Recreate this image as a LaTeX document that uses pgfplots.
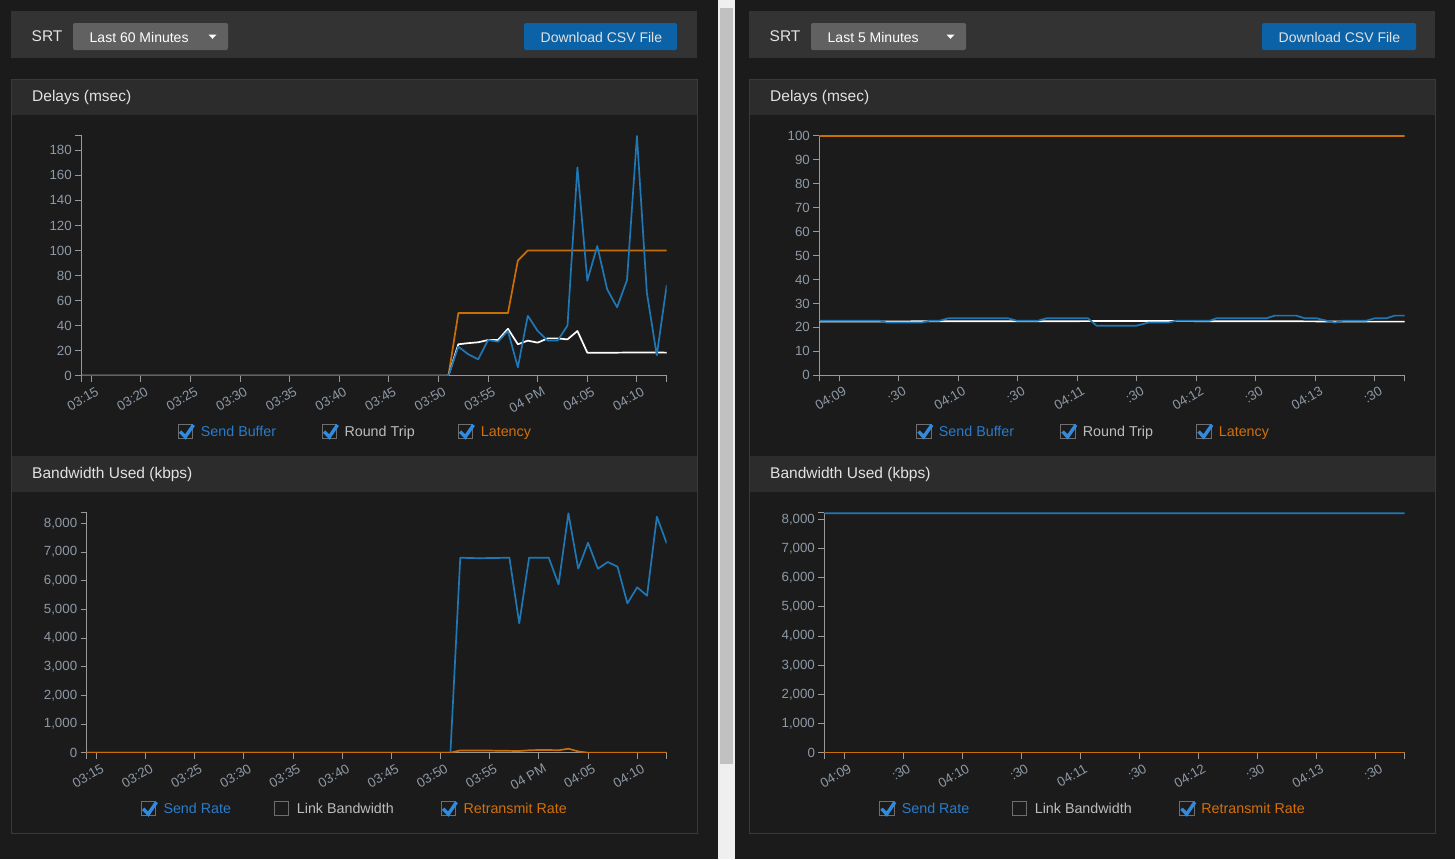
\documentclass[border=0pt]{standalone}
\usepackage{pgfplots}
\pgfplotsset{compat=1.18}
\usepackage{fontspec}
\setmainfont{Liberation Sans}
\definecolor{pagebg}{HTML}{1B1B1B}
\definecolor{barbg}{HTML}{333333}
\definecolor{hdrbg}{HTML}{2C2C2C}
\definecolor{panelborder}{HTML}{3A3A3A}
\definecolor{ddbtn}{HTML}{616161}
\definecolor{dlbtn}{HTML}{0B62A6}
\definecolor{axisgray}{HTML}{999999}
\definecolor{ticktxt}{HTML}{8E99A6}
\definecolor{sblue}{HTML}{1F77B4}
\definecolor{sorange}{HTML}{C96F06}
\definecolor{lgblue}{HTML}{2A7CCB}
\definecolor{lgorange}{HTML}{D2700C}
\definecolor{lggray}{HTML}{BDBDBD}
\definecolor{chkblue}{HTML}{2E8BE0}
\definecolor{boxgray}{HTML}{6E6E6E}
\definecolor{hdrtxt}{HTML}{E2E2E2}
\definecolor{scrollbg}{HTML}{EFEFEF}
\definecolor{scrollthumb}{HTML}{C1C1C1}

\pgfplotsset{
  srt/.style={
    scale only axis, anchor=south west,
    axis lines=left, axis line style={-, draw=axisgray, line width=1bp},
    tick align=outside, major tick length=6bp,
    tick style={draw=axisgray, line width=1bp},
    ticklabel style={font=\fontsize{13.3bp}{13.3bp}\selectfont, text=ticktxt},
    /pgf/number format/assume math mode=true,
    /pgf/number format/1000 sep={,},
    xticklabel style={xshift=9bp, yshift=-7bp, rotate=30, anchor=east},
    extra x tick labels={}, extra y tick labels={},
    ymin=0,
    every axis plot/.append style={line width=1.7bp, line join=round, mark=none},
  }
}
\newcommand{\cbox}[2]{\draw[boxgray, line width=1bp] (#1,#2) rectangle ++(14.4,14.4);}
\newcommand{\cmark}[2]{\draw[chkblue, line width=3.4bp, line join=miter] (#1+1.8,#2+7.2) -- (#1+7,#2+12.6) -- (#1+15.2,#2+0.6);}
\newcommand{\hdrfont}{\fontsize{15.5bp}{15.5bp}\selectfont}
\newcommand{\btnfont}{\fontsize{14bp}{14bp}\selectfont}
\newcommand{\lgfont}{\fontsize{14.3bp}{14.3bp}\selectfont}

\begin{document}
\begin{tikzpicture}
\begin{scope}[x=1bp, y=-1bp]
% page
\fill[pagebg] (0,0) rectangle (1455,859);
\useasboundingbox (0,0) rectangle (1455,859);
% scrollbar
\fill[scrollbg] (718,0) rectangle (735,859);
\fill[scrollthumb] (720,8) rectangle (733,764);

% ---------- LEFT COLUMN ----------
\fill[barbg] (11,11) rectangle (697,58);
\node[anchor=base west, inner sep=0, text=hdrtxt, font=\hdrfont] at (31.5,41) {SRT};
\fill[ddbtn, rounded corners=2bp] (73,23) rectangle (228,50);
\node[anchor=base west, inner sep=0, text=white, font=\btnfont] at (89.5,42.5) {Last 60 Minutes};
\fill[white] (208.5,34.5) -- (216.5,34.5) -- (212.5,38.8) -- cycle;
\fill[dlbtn, rounded corners=1.5bp] (524,23) rectangle (677,50);
\node[anchor=base west, inner sep=0, text=hdrtxt, font=\btnfont] at (540.5,42.5) {Download CSV File};

\fill[pagebg] (11,79) rectangle (697,833);
\fill[hdrbg] (11,79) rectangle (697,115);
\fill[hdrbg] (11,456) rectangle (697,492);
\draw[panelborder, line width=1bp] (11.5,79.5) rectangle (697.5,833.5);
\node[anchor=base west, inner sep=0, text=hdrtxt, font=\hdrfont] at (32,101.7) {Delays (msec)};
\node[anchor=base west, inner sep=0, text=hdrtxt, font=\hdrfont] at (32,478.7) {Bandwidth Used (kbps)};

% legends left
\cbox{178.3}{424.3}\cmark{178.3}{424.3}
\node[anchor=base west, inner sep=0, text=lgblue, font=\lgfont] at (200.7,436.6) {Send Buffer};
\cbox{322.3}{424.3}\cmark{322.3}{424.3}
\node[anchor=base west, inner sep=0, text=lggray, font=\lgfont] at (344.3,436.6) {Round Trip};
\cbox{458.3}{424.3}\cmark{458.3}{424.3}
\node[anchor=base west, inner sep=0, text=lgorange, font=\lgfont] at (480.7,436.6) {Latency};

\cbox{141.3}{801.5}\cmark{141.3}{801.5}
\node[anchor=base west, inner sep=0, text=lgblue, font=\lgfont] at (163.3,813.5) {Send Rate};
\cbox{274.3}{801.5}
\node[anchor=base west, inner sep=0, text=lggray, font=\lgfont] at (296.7,813.5) {Link Bandwidth};
\cbox{441.3}{801.5}\cmark{441.3}{801.5}
\node[anchor=base west, inner sep=0, text=lgorange, font=\lgfont] at (463.3,813.5) {Retransmit Rate};

% ---------- RIGHT COLUMN ----------
\fill[barbg] (749,11) rectangle (1435,58);
\node[anchor=base west, inner sep=0, text=hdrtxt, font=\hdrfont] at (769.5,41) {SRT};
\fill[ddbtn, rounded corners=2bp] (811,23) rectangle (966,50);
\node[anchor=base west, inner sep=0, text=white, font=\btnfont] at (827.5,42.5) {Last 5 Minutes};
\fill[white] (946.5,34.5) -- (954.5,34.5) -- (950.5,38.8) -- cycle;
\fill[dlbtn, rounded corners=1.5bp] (1262,23) rectangle (1416,50);
\node[anchor=base west, inner sep=0, text=hdrtxt, font=\btnfont] at (1278.5,42.5) {Download CSV File};

\fill[pagebg] (749,79) rectangle (1435,833);
\fill[hdrbg] (749,79) rectangle (1435,115);
\fill[hdrbg] (749,456) rectangle (1435,492);
\draw[panelborder, line width=1bp] (749.5,79.5) rectangle (1435.5,833.5);
\node[anchor=base west, inner sep=0, text=hdrtxt, font=\hdrfont] at (770,101.7) {Delays (msec)};
\node[anchor=base west, inner sep=0, text=hdrtxt, font=\hdrfont] at (770,478.7) {Bandwidth Used (kbps)};

\cbox{916.7}{424.3}\cmark{916.7}{424.3}
\node[anchor=base west, inner sep=0, text=lgblue, font=\lgfont] at (938.7,436.6) {Send Buffer};
\cbox{1060.7}{424.3}\cmark{1060.7}{424.3}
\node[anchor=base west, inner sep=0, text=lggray, font=\lgfont] at (1082.7,436.6) {Round Trip};
\cbox{1196.7}{424.3}\cmark{1196.7}{424.3}
\node[anchor=base west, inner sep=0, text=lgorange, font=\lgfont] at (1218.7,436.6) {Latency};

\cbox{879.7}{801.5}\cmark{879.7}{801.5}
\node[anchor=base west, inner sep=0, text=lgblue, font=\lgfont] at (901.6,813.5) {Send Rate};
\cbox{1012.3}{801.5}
\node[anchor=base west, inner sep=0, text=lggray, font=\lgfont] at (1034.6,813.5) {Link Bandwidth};
\cbox{1179.7}{801.5}\cmark{1179.7}{801.5}
\node[anchor=base west, inner sep=0, text=lgorange, font=\lgfont] at (1201.2,813.5) {Retransmit Rate};
\end{scope}

% ---------- AXIS A: Delays, last 60 min ----------
\begin{axis}[srt, at={(81.3bp,-375.7bp)}, width=585.4bp, height=240.7bp,
  xmin=-1, xmax=58, ymax=192.2,
  xtick={0,5,...,55},
  xticklabels={03:15,03:20,03:25,03:30,03:35,03:40,03:45,03:50,03:55,04 PM,04:05,04:10},
  ytick={0,20,...,180}, extra x ticks={-1,58}, extra y ticks={192.2}]
\addplot[sorange] coordinates {(-1,0) (36,0) (37,50) (38,50) (39,50) (40,50) (41,50) (42,50) (43,92) (44,100) (45,100) (50,100) (55,100) (58,100)};
\addplot[white] coordinates {(-1,0) (36,0) (37,25.1) (38,26.0) (39,26.7) (40,28.5) (41,28.5) (42,37.5) (43,25.1) (44,28.0) (45,26.4) (46,29.8) (47,29.8) (48,29.0) (49,35.7) (50,18.4) (51,18.4) (52,18.4) (53,18.4) (54,18.5) (55,18.5) (56,18.6) (57,18.6) (58,18.4)};
\addplot[sblue] coordinates {(-1,0) (36,0) (37,23.2) (38,17.1) (39,13.1) (40,28.5) (41,27.2) (42,35.7) (43,6.7) (44,47.9) (45,35.7) (46,28.0) (47,28.0) (48,40.0) (49,166.4) (50,75.9) (51,103.6) (52,69.0) (53,54.6) (54,76.4) (55,191.4) (56,66.3) (57,16.3) (58,72.4)};
\end{axis}

% ---------- AXIS B: Bandwidth, last 60 min ----------
\begin{axis}[srt, at={(86.7bp,-752.7bp)}, width=580bp, height=240bp,
  xmin=-1, xmax=58, ymax=8371,
  xtick={0,5,...,55},
  xticklabels={03:15,03:20,03:25,03:30,03:35,03:40,03:45,03:50,03:55,04 PM,04:05,04:10},
  ytick={0,1000,...,8000}, extra x ticks={-1,58}, extra y ticks={8371},
  scaled y ticks=false]
\addplot[sblue] coordinates {(-1,0) (36,0) (37,6802) (38,6790) (39,6785) (40,6790) (41,6795) (42,6802) (43,4513) (44,6802) (45,6802) (46,6802) (47,5873) (48,8350) (49,6418) (50,7325) (51,6418) (52,6651) (53,6488) (54,5210) (55,5769) (56,5476) (57,8232) (58,7303)};
\addplot[sorange] coordinates {(-1,0) (36,0) (37,80) (38,80) (39,80) (40,75) (41,70) (42,65) (43,60) (44,85) (45,95) (46,95) (47,85) (48,140) (49,45) (50,0) (51,0) (55,0) (58,0)};
\end{axis}

% ---------- AXIS C: Delays, last 5 min ----------
\begin{axis}[srt, at={(819.3bp,-375.3bp)}, width=585.4bp, height=239.6bp,
  xmin=-10, xmax=285, ymax=100,
  xtick={0,30,...,270},
  xticklabels={04:09,:30,04:10,:30,04:11,:30,04:12,:30,04:13,:30},
  ytick={0,10,...,100}, extra x ticks={-10,285}]
\addplot[sorange] coordinates {(-10,100) (60,100) (120,100) (180,100) (240,100) (285,100)};
\addplot[white] coordinates {(-10,22.4) (30,22.5) (60,22.6) (90,22.6) (120,22.6) (150,22.7) (180,22.6) (210,22.6) (240,22.5) (270,22.4) (285,22.4)};
\addplot[sblue] coordinates {(-10,22.8) (20.5,22.8) (23.9,22.0) (41.5,22.0) (45.7,22.8) (50.7,22.8) (54.9,23.8) (85.1,23.8) (89.4,22.8) (100.3,22.8) (104.5,23.8) (125.4,23.8) (129.7,20.7) (149.8,20.7) (155.7,22.0) (165.7,22.0) (170,22.8) (186.8,22.8) (190.1,23.8) (215.3,23.8) (219.5,24.9) (230.4,24.9) (234.6,23.8) (240.5,23.8) (249.7,22.0) (253.9,22.8) (265.7,22.8) (269.9,23.8) (275.8,23.8) (279.9,24.9) (285,24.9)};
\end{axis}

% ---------- AXIS D: Bandwidth, last 5 min ----------
\begin{axis}[srt, at={(824.4bp,-752.7bp)}, width=580.3bp, height=240bp,
  xmin=-10, xmax=285, ymax=8228,
  xtick={0,30,...,270},
  xticklabels={04:09,:30,04:10,:30,04:11,:30,04:12,:30,04:13,:30},
  ytick={0,1000,...,8000}, extra x ticks={-10,285}, extra y ticks={8228},
  scaled y ticks=false]
\addplot[sblue] coordinates {(-10,8212) (60,8212) (120,8212) (180,8212) (240,8212) (285,8210)};
\addplot[sorange] coordinates {(-10,0) (60,0) (120,0) (180,0) (240,0) (285,0)};
\end{axis}
\end{tikzpicture}
\end{document}
